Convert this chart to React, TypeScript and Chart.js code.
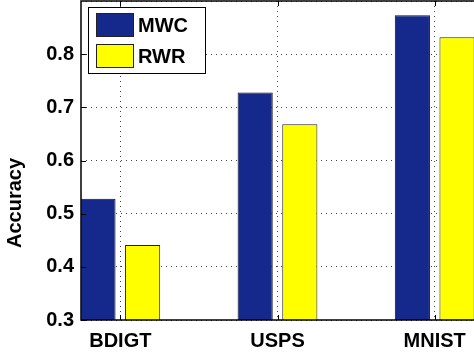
import React, { useEffect, useRef } from "react";
import { Chart, registerables } from "chart.js";

Chart.register(...registerables);

const categories = ["BDIGT", "USPS", "MNIST"];
const seriesNames = ["MWC", "RWR"];
const mwcValues = [0.528, 0.728, 0.873];
const rwrValues = [0.441, 0.668, 0.832];
const yTicks = [0.3, 0.4, 0.5, 0.6, 0.7, 0.8];
const yAxisTitle = "Accuracy";

const BLUE = "#15298c";
const YELLOW = "#ffff00";
const FONT = "'Liberation Sans', Arial, Helvetica, sans-serif";

const framePlugin = {
  id: "frame",
  afterDatasetsDraw(chart: any) {
    const { ctx, chartArea, scales } = chart;
    const { left, right, top, bottom } = chartArea;
    ctx.save();
    // inward tick marks
    ctx.strokeStyle = "#000";
    ctx.lineWidth = 1;
    ctx.beginPath();
    [1, 2, 3].forEach((v) => {
      const x = Math.round(scales.x.getPixelForValue(v)) + 0.5;
      ctx.moveTo(x, top);
      ctx.lineTo(x, top + 5);
      ctx.moveTo(x, bottom);
      ctx.lineTo(x, bottom - 5);
    });
    yTicks.forEach((v) => {
      const y = Math.round(scales.y.getPixelForValue(v)) + 0.5;
      ctx.moveTo(left, y);
      ctx.lineTo(left + 5, y);
    });
    ctx.stroke();
    // frame (right edge lies outside the picture)
    ctx.lineWidth = 1.5;
    ctx.beginPath();
    ctx.moveTo(right + 2, top);
    ctx.lineTo(left, top);
    ctx.lineTo(left, bottom);
    ctx.lineTo(right + 2, bottom);
    ctx.stroke();
    // legend
    const lx = 88, ly = 7, lw = 117, lh = 66;
    ctx.fillStyle = "#fff";
    ctx.fillRect(lx, ly, lw, lh);
    ctx.lineWidth = 1;
    ctx.strokeStyle = "#000";
    ctx.strokeRect(lx + 0.5, ly + 0.5, lw, lh);
    chart.data.datasets.forEach((ds: any, i: number) => {
      const sy = ly + 6 + i * 31;
      ctx.fillStyle = ds.backgroundColor;
      ctx.fillRect(96, sy, 37, 23);
      ctx.strokeStyle = "#222";
      ctx.strokeRect(96.5, sy + 0.5, 37, 23);
      ctx.fillStyle = "#000";
      ctx.font = `bold 20px ${FONT}`;
      ctx.textAlign = "left";
      ctx.textBaseline = "middle";
      ctx.fillText(ds.label, 138, sy + 13);
    });
    // y axis title
    ctx.save();
    ctx.translate(15, 203);
    ctx.rotate(-Math.PI / 2);
    ctx.font = `bold 20px ${FONT}`;
    ctx.textAlign = "center";
    ctx.textBaseline = "middle";
    ctx.fillStyle = "#000";
    ctx.fillText(yAxisTitle, 0, 0);
    ctx.restore();
    ctx.restore();
  },
};

export default function App() {
  const ref = useRef<HTMLCanvasElement>(null);
  useEffect(() => {
    document.body.style.margin = "0";
    const canvas = ref.current!;
    const chart = new Chart(canvas, {
      type: "bar",
      data: {
        datasets: [
          {
            label: seriesNames[0],
            data: mwcValues.map((y, i) => ({ x: i + 1, y })),
            backgroundColor: BLUE,
            borderColor: "#111",
            borderWidth: 1,
          },
          {
            label: seriesNames[1],
            data: rwrValues.map((y, i) => ({ x: i + 1, y })),
            backgroundColor: YELLOW,
            borderColor: "#222",
            borderWidth: 1,
          },
        ],
      },
      options: {
        responsive: false,
        animation: false,
        events: [],
        layout: { padding: { top: 1, right: 0, left: 0, bottom: 0 } },
        datasets: {
          bar: { categoryPercentage: 0.568, barPercentage: 0.787 },
        },
        plugins: {
          legend: { display: false },
          tooltip: { enabled: false },
        },
        scales: {
          x: {
            type: "linear",
            offset: false,
            min: 0.75,
            max: 3.25,
            afterBuildTicks: (axis: any) => {
              axis.ticks = categories.map((_, i) => ({ value: i + 1 }));
            },
            afterFit: (axis: any) => {
              axis.height = 33;
              axis.paddingLeft = 0;
              axis.paddingRight = 0;
            },
            grid: { color: "#444", drawTicks: false, lineWidth: 1, offset: false },
            border: { display: false, dash: [1, 4] },
            ticks: {
              padding: 9,
              color: "#000",
              font: { family: FONT, size: 20, weight: "bold" },
              maxRotation: 0,
              callback: (v: any) => categories[Math.round(v) - 1] ?? "",
            },
          },
          y: {
            min: 0.3,
            max: 0.9,
            afterFit: (axis: any) => {
              axis.width = 81;
              axis.paddingTop = 0;
              axis.paddingBottom = 0;
            },
            grid: { color: "#444", drawTicks: false, lineWidth: 1 },
            border: { display: false, dash: [1, 4] },
            ticks: {
              stepSize: 0.1,
              padding: 7,
              color: "#000",
              font: { family: FONT, size: 20, weight: "bold" },
              callback: (v: any) => {
                const n = Number(v);
                return n > 0.85 ? "" : n.toFixed(1);
              },
            },
          },
        },
      },
      plugins: [framePlugin],
    } as any);
    return () => chart.destroy();
  }, []);
  return <canvas ref={ref} width={474} height={353} style={{ display: "block" }} />;
}
